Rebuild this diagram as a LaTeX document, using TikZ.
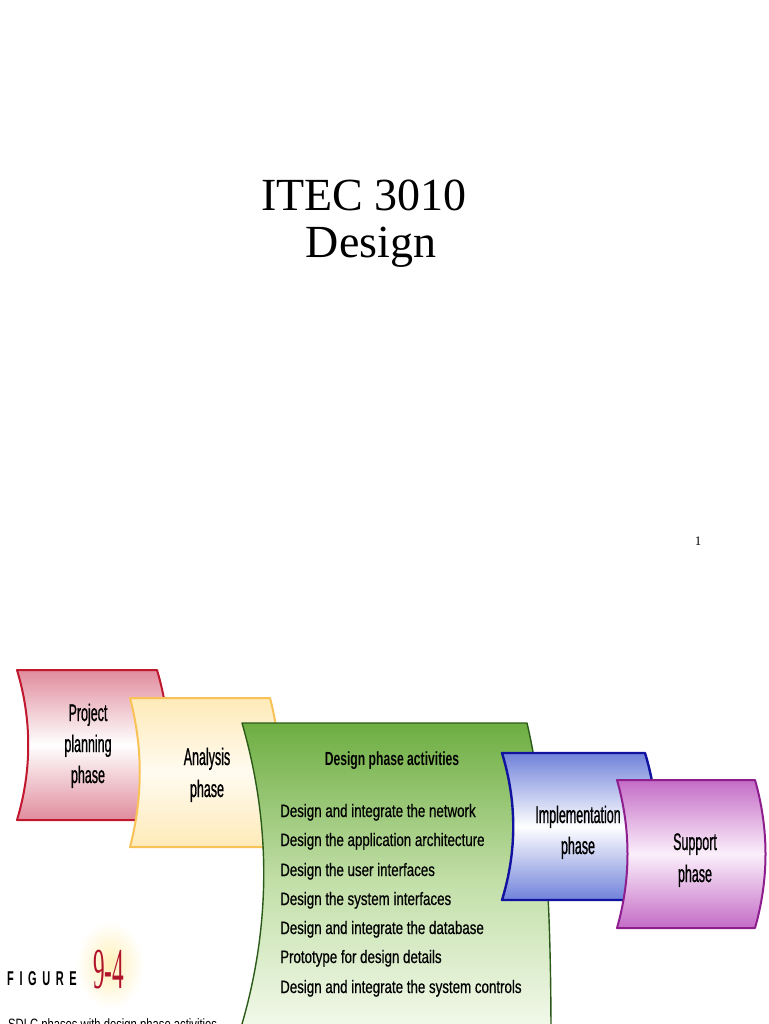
\documentclass[tikz,border=0pt]{standalone}
\usepackage{fontspec}
\setmainfont{Liberation Serif}
\newfontfamily\labfont[FakeStretch=0.52,FakeBold=0.8]{Liberation Sans}
\newfontfamily\lstfont[FakeStretch=0.74,FakeBold=0.5]{Liberation Sans}
\newfontfamily\hdrfont[FakeStretch=0.64]{Liberation Sans}
\newfontfamily\figfont[FakeStretch=0.55,LetterSpace=28]{Liberation Sans}
\newfontfamily\numfont[FakeStretch=0.4]{Liberation Serif}
\newfontfamily\capfont[FakeStretch=0.75]{Liberation Sans}
\definecolor{pinkB}{HTML}{C0182E}
\definecolor{pinkT}{HTML}{E08C9C}
\definecolor{yelB}{HTML}{F8C256}
\definecolor{yelT}{HTML}{FFEAB8}
\definecolor{yelM}{HTML}{FFFBF0}
\definecolor{grnB}{HTML}{2A5A18}
\definecolor{grnT}{HTML}{6EAE42}
\definecolor{grnM}{HTML}{C2DFA8}
\definecolor{grnE}{HTML}{F6FBF0}
\definecolor{bluB}{HTML}{1212A0}
\definecolor{bluT}{HTML}{7082DA}
\definecolor{magB}{HTML}{8E1E8E}
\definecolor{magT}{HTML}{C46CC6}
\definecolor{magM}{HTML}{FBEFFB}
\definecolor{figred}{HTML}{B0142A}
\definecolor{glow}{HTML}{FFF0B8}
\begin{document}
\begin{tikzpicture}[x=1pt,y=-1pt,
  phaseshape/.style={line join=round},
  lab/.style={anchor=base,inner sep=0pt,font=\labfont\fontsize{24}{30}\selectfont},
  item/.style={anchor=base west,inner sep=0pt,font=\lstfont\fontsize{18}{22}\selectfont}]
\useasboundingbox (0,0) rectangle (768,1024);
\fill[white] (0,0) rectangle (768,1024);
% title
\node[anchor=base,inner sep=0pt,font=\fontsize{46}{54}\selectfont] (t1) at (364,211) {ITEC 3010};
\node[anchor=base,inner sep=0pt,font=\fontsize{46}{54}\selectfont] (t2) at (371,257) {Design};
\node[anchor=base,inner sep=0pt,font=\fontsize{13}{15}\selectfont] (pg) at (698,545) {1};
% project planning
\draw[phaseshape,draw=pinkB,line width=2pt,top color=pinkT,bottom color=pinkT,middle color=white]
  (17,670) -- (157,670) .. controls (172,720) and (172,770) .. (157,820) -- (17,820)
  .. controls (32,770) and (32,720) .. (17,670) -- cycle;
% analysis
\draw[phaseshape,draw=yelB,line width=2pt,top color=yelT,bottom color=yelT,middle color=yelM]
  (130,698) -- (270,698) .. controls (283,748) and (283,797) .. (270,847) -- (130,847)
  .. controls (143,797) and (143,748) .. (130,698) -- cycle;
% design
\draw[phaseshape,draw=grnB,line width=1.4pt,top color=grnT,bottom color=grnE,middle color=grnM]
  (242,723) -- (527,723) .. controls (545,800) and (551,900) .. (551,1040) -- (242,1040)
  -- (242,1024) .. controls (271,924) and (271,823) .. (242,723) -- cycle;
% implementation
\draw[phaseshape,draw=bluB,line width=2.4pt,top color=bluT,bottom color=bluT,middle color=white]
  (502,753) -- (645,753) .. controls (660,802) and (660,851) .. (645,900) -- (502,900)
  .. controls (517,851) and (517,802) .. (502,753) -- cycle;
% support
\draw[phaseshape,draw=magB,line width=2pt,top color=magT,bottom color=magT,middle color=magM]
  (617,780) -- (755,780) .. controls (769,829) and (769,879) .. (755,928) -- (617,928)
  .. controls (631,879) and (631,829) .. (617,780) -- cycle;
% labels
\node[lab] (pp1) at (88,721) {Project};
\node[lab] (pp2) at (88,752) {planning};
\node[lab] (pp3) at (88,783) {phase};
\node[lab] (an1) at (207,765) {Analysis};
\node[lab] (an2) at (207,797) {phase};
\node[lab] (im1) at (578,823) {Implementation};
\node[lab] (im2) at (578,854) {phase};
\node[lab] (su1) at (695,850) {Support};
\node[lab] (su2) at (695,882) {phase};
\node[anchor=base,inner sep=0pt,font=\hdrfont\bfseries\fontsize{19}{22}\selectfont] (hd) at (392,765) {Design phase activities};
\node[item] (d1) at (280,817) {Design and integrate the network};
\node[item] (d2) at (280,846) {Design the application architecture};
\node[item] (d3) at (280,876) {Design the user interfaces};
\node[item] (d4) at (280,905) {Design the system interfaces};
\node[item] (d5) at (280,934) {Design and integrate the database};
\node[item] (d6) at (280,963) {Prototype for design details};
\node[item] (d7) at (280,993) {Design and integrate the system controls};
% figure label
\shade[inner color=glow,outer color=white] (110,965) ellipse (34 and 44);
\node[anchor=base west,inner sep=0pt,font=\figfont\bfseries\fontsize{20}{24}\selectfont] (fig) at (7,985) {FIGURE};
\node[anchor=base west,inner sep=0pt,text=figred,font=\numfont\fontsize{58}{60}\selectfont] (num) at (93,988) {9-4};
\node[anchor=base west,inner sep=0pt,font=\capfont\fontsize{15}{18}\selectfont] (cap) at (8,1029) {SDLC phases with design phase activities};
\end{tikzpicture}
\end{document}
